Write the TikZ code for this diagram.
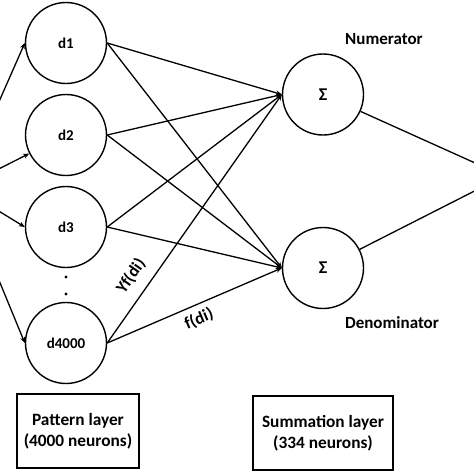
\documentclass[tikz,border=0pt]{standalone}
\usepackage{fontspec}
\setmainfont{Carlito}
\usetikzlibrary{arrows.meta}
\begin{document}
\begin{tikzpicture}[x=1pt,y=-1pt,
 neuron/.style={circle,draw,line width=1.4pt,minimum size=81pt,inner sep=0pt,font=\bfseries\fontsize{15}{17}\selectfont},
 sumneuron/.style={neuron,font=\bfseries\fontsize{18}{20}\selectfont},
 conn/.style={line width=1.3pt,-{Stealth[length=6pt,width=5pt]}},
 link/.style={line width=1.3pt},
 layerbox/.style={draw,line width=1.4pt,align=center,font=\bfseries\fontsize{17.3}{20.5}\selectfont,inner sep=0pt,minimum height=74pt},
 lbl/.style={font=\bfseries\fontsize{17}{19}\selectfont,inner sep=0pt}]
\useasboundingbox (0,0) rectangle (474,474);
\begin{scope}
\clip (0,0) rectangle (474,474);
\node[neuron] (d1) at (66,43) {d1};
\node[neuron] (d2) at (66,135) {d2};
\node[neuron] (d3) at (66,227) {d3};
\node[neuron] (d4) at (66,343) {d4000};
\node[sumneuron] (s1) at (323,94.5) {Σ};
\node[sumneuron] (s2) at (323,268) {Σ};
\fill (66,277) circle (1.7pt) coordinate (dotA);
\fill (66,294) circle (1.7pt) coordinate (dotB);
\coordinate (in) at (-39,188);
\coordinate (out) at (504,176);
\draw[conn] (in) -- (d1.west);
\draw[conn] (in) -- (d2);
\draw[conn] (in) -- (d3.west);
\draw[conn] (in) -- (d4.west);
\foreach \d in {d1,d2,d3,d4}{
  \draw[conn] (\d.east) -- (s1.west);
  \draw[conn] (\d.east) -- (s2.west);
}
\draw[link] (s1) -- (out);
\draw[link] (s2) -- (out);
\node[lbl,rotate=55] (yf) at (131,276) {Yf(di)};
\node[lbl,rotate=23] (fd) at (199,319) {f(di)};
\node[lbl] (num) at (384,39) {Numerator};
\node[lbl] (den) at (392,323) {Denominator};
\node[layerbox,minimum width=122pt] (pat) at (78,431) {Pattern layer\\(4000 neurons)};
\node[layerbox,minimum width=140pt] (sum) at (323,433) {Summation layer\\(334 neurons)};
\end{scope}
\end{tikzpicture}
\end{document}
